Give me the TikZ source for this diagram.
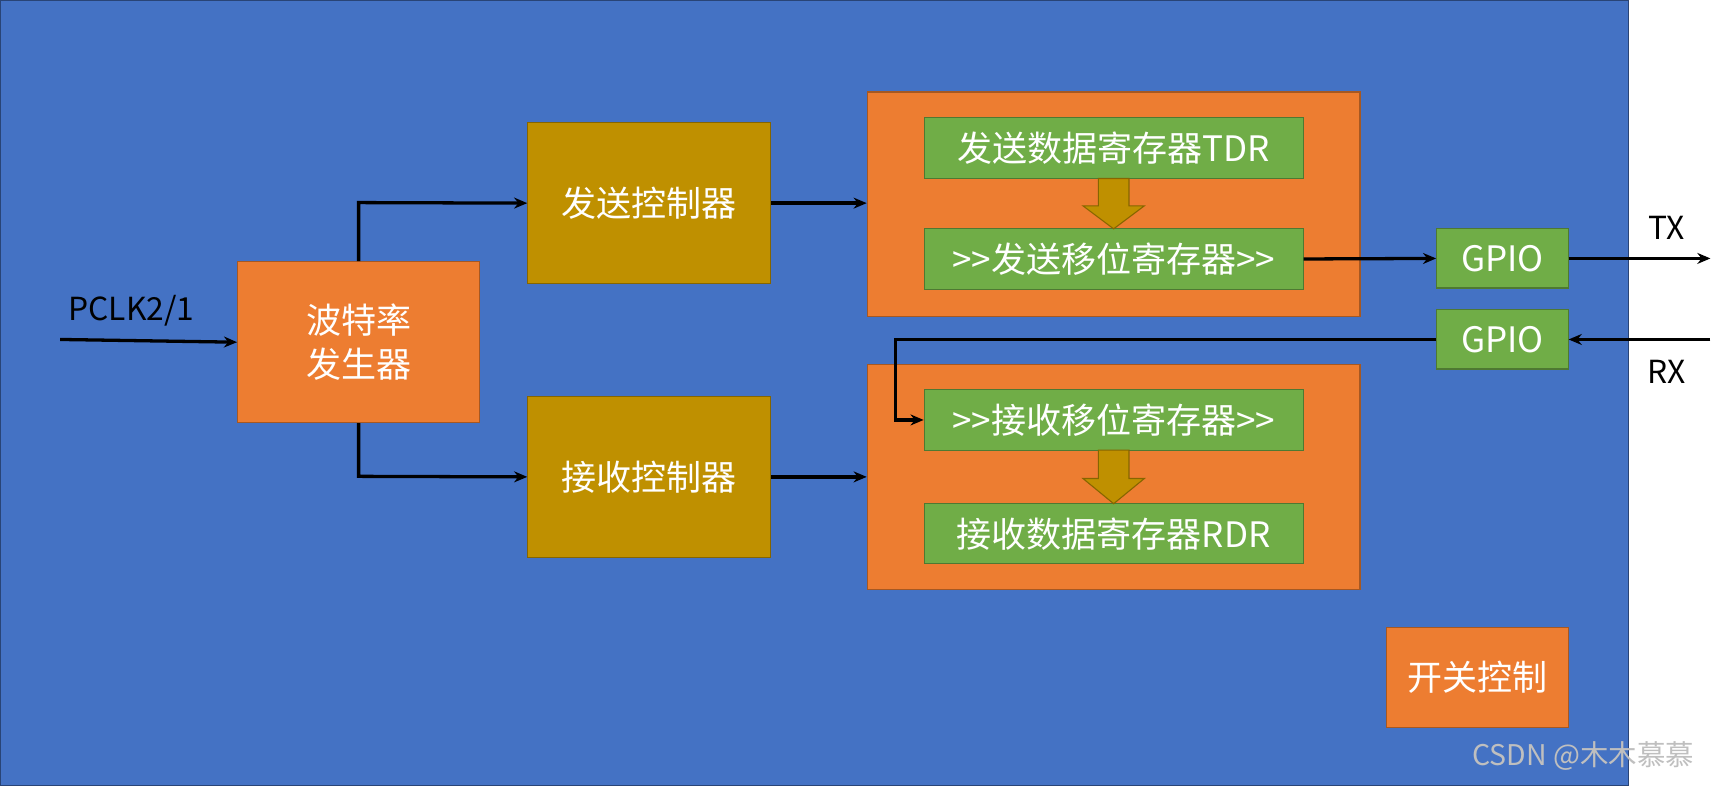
\documentclass[tikz,border=0pt]{standalone}
\usepackage{fontspec}
\setmainfont{Noto Sans CJK SC}
\usetikzlibrary{arrows.meta}
\definecolor{bgblue}{HTML}{4472C4}
\definecolor{orng}{HTML}{ED7D31}
\definecolor{gold}{HTML}{BF9000}
\definecolor{grn}{HTML}{70AD47}
\tikzset{
 box/.style={draw=#1!70!black,fill=#1,text=white,align=center,font=\fontsize{32}{40}\selectfont,inner sep=0pt,line width=1pt},
 ln/.style={line width=3pt,-{Stealth[length=12pt,width=10pt]}},
 lbl/.style={font=\fontsize{29}{30}\selectfont,text=black},
 barrow/.style={fill=gold,draw=gold!70!black,line width=1pt}
}
\newcommand{\dblgt}{{>}{>}}
\begin{document}
\begin{tikzpicture}[x=1pt,y=-1pt]
\useasboundingbox (0,0) rectangle (1568,718);
\fill[white] (0,0) rectangle (1568,718);
\draw[fill=bgblue,draw=bgblue!60!black,line width=1pt] (0.5,0.5) rectangle (1487,717);
\node[box=orng,minimum width=221pt,minimum height=147pt] (baud) at (327.5,312.5) {波特率\\发生器};
\node[box=gold,minimum width=222pt,minimum height=147pt] (tc) at (593,185.5) {发送控制器};
\node[box=gold,minimum width=222pt,minimum height=147pt] (rc) at (593,435.5) {接收控制器};
\node[box=orng,minimum width=450pt,minimum height=205pt] (tbig) at (1017,186.5) {};
\node[box=orng,minimum width=450pt,minimum height=205pt] (rbig) at (1017,435.5) {};
\node[box=grn,minimum width=346pt,minimum height=56pt] (tdr) at (1017,135) {发送数据寄存器TDR};
\node[box=grn,minimum width=346pt,minimum height=55pt] (tsr) at (1017,236.5) {\dblgt 发送移位寄存器\dblgt};
\node[box=grn,minimum width=346pt,minimum height=55pt] (rsr) at (1017,383.5) {\dblgt 接收移位寄存器\dblgt};
\node[box=grn,minimum width=346pt,minimum height=55pt] (rdr) at (1017,487.5) {接收数据寄存器RDR};
\node[box=grn,minimum width=120pt,minimum height=54pt] (g1) at (1372,236) {GPIO};
\node[box=grn,minimum width=120pt,minimum height=54pt] (g2) at (1372,310) {GPIO};
\node[box=orng,minimum width=166pt,minimum height=91pt] (sw) at (1349,618.5) {开关控制};
\draw[barrow] (1003,163) -- (1031,163) -- (1031,188) -- (1045,188) -- (1017,209) -- (989,188) -- (1003,188) -- cycle;
\draw[barrow] (1003,411) -- (1031,411) -- (1031,437) -- (1045,437) -- (1017,460) -- (989,437) -- (1003,437) -- cycle;
\coordinate (pin) at (55,310);
\coordinate (tx) at (1562,236);
\coordinate (rx) at (1562,310);
\draw[ln] (pin) -- (baud.west);
\node[lbl] (plab) at (120,284) {PCLK2/1};
\draw[ln] (baud.north) -- (327.5,185) -- (tc.west);
\draw[ln] (baud.south) -- (327.5,435) -- (rc.west);
\draw[ln] (tc.east) -- (tbig.west|-tc.east);
\draw[ln] (rc.east) -- (rbig.west|-rc.east);
\draw[ln] (tsr.east) -- (g1.west);
\draw[ln] (g1.east) -- (tx);
\draw[ln] (rx) -- (g2.east);
\draw[ln] (g2.west) -- (818,310) -- (818,383.5) -- (rsr.west);
\node[lbl] (txl) at (1522,208) {TX};
\node[lbl] (rxl) at (1522,340) {RX};
\node[font=\fontsize{26}{28}\selectfont,text=gray!50] (wm) at (1446,690) {CSDN @木木慕慕};
\end{tikzpicture}
\end{document}
